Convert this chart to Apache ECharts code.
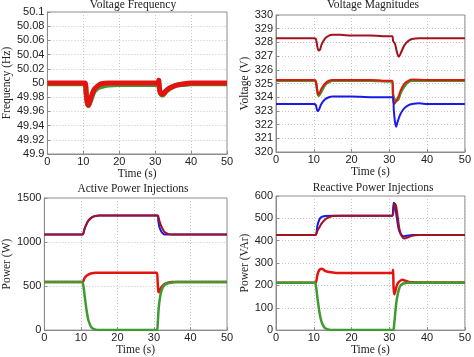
<!DOCTYPE html>
<html><head><meta charset="utf-8">
<script src="https://cdn.jsdelivr.net/npm/echarts@6/dist/echarts.min.js"></script>
<style>html,body{margin:0;padding:0;background:#fff}#c{width:474px;height:357px}</style>
</head><body><div id="c"></div>
<script>
// ---------- Data ----------
const timeTicks = [0, 10, 20, 30, 40, 50];
const titles = ['Voltage Frequency', 'Voltage Magnitudes', 'Active Power Injections', 'Reactive Power Injections'];
const yNames = ['Frequency (Hz)', 'Voltage (V)', 'Power (W)', 'Power (VAr)'];

// Panel 1: frequency
const fRedT = [0, 10, 10.5, 10.8, 11.1, 11.4, 11.8, 12.3, 13, 14, 15, 17, 20, 25, 30.8, 31, 31.2, 31.5, 32, 32.5, 33, 34, 35, 36, 38, 40, 45, 50];
const fRedV = [50.0, 50.0, 50.0, 49.985, 49.972, 49.969, 49.974, 49.982, 49.991, 49.996, 49.999, 50.0, 50.0, 50.0, 50.0, 50.004, 49.992, 49.986, 49.984, 49.986, 49.989, 49.993, 49.995, 49.997, 49.999, 50.0, 50.0, 50.0];
const fGreenT = [0, 10, 10.5, 10.8, 11.1, 11.4, 11.8, 12.3, 13, 14, 15, 17, 20, 25, 30.8, 31, 31.2, 31.5, 32, 32.5, 33, 34, 35, 36, 38, 40, 45, 50];
const fGreenV = [49.999, 49.999, 49.999, 49.985, 49.972, 49.968, 49.972, 49.979, 49.988, 49.993, 49.995, 49.997, 49.998, 49.998, 49.998, 49.999, 49.991, 49.985, 49.983, 49.985, 49.988, 49.992, 49.995, 49.997, 49.998, 49.999, 49.999, 49.999];

// Panel 2: voltage magnitudes
const vTopT = [0, 10, 10.5, 11, 11.3, 11.7, 12, 13, 14, 15, 17, 20, 25, 30, 30.8, 31, 31.5, 32, 32.5, 33, 34, 35, 36, 38, 40, 45, 50];
const vTopV = [328.3, 328.3, 328.28, 327.6, 327.4, 327.5, 327.8, 328.3, 328.5, 328.55, 328.55, 328.5, 328.5, 328.45, 328.45, 328.1, 327.9, 327.3, 326.95, 327.2, 327.8, 328.1, 328.25, 328.3, 328.3, 328.3, 328.3];
const vRedT = [0, 10, 10.5, 11, 11.3, 12, 13, 14, 15, 20, 25, 30, 30.8, 31, 31.3, 31.8, 32.5, 33, 34, 35, 36, 40, 45, 50];
const vRedV = [325.25, 325.25, 325.2, 324.4, 324.2, 324.6, 325.0, 325.2, 325.25, 325.25, 325.25, 325.2, 325.2, 323.9, 323.5, 323.7, 324.1, 324.5, 325.0, 325.2, 325.3, 325.25, 325.25, 325.25];
const vGreenT = [0, 10, 10.5, 11, 11.3, 12, 13, 14, 15, 20, 25, 30, 30.8, 31, 31.5, 32, 32.5, 33, 34, 35, 36, 40, 45, 50];
const vGreenV = [325.2, 325.2, 325.15, 324.3, 324.1, 324.4, 324.9, 325.1, 325.2, 325.2, 325.2, 325.15, 325.15, 324.2, 323.8, 323.75, 323.9, 324.3, 324.8, 325.1, 325.2, 325.2, 325.2, 325.2];
const vBlueT = [0, 10, 10.5, 11, 11.3, 12, 13, 14, 15, 20, 25, 30, 30.9, 31.2, 31.5, 31.8, 32.3, 33, 34, 35, 36, 38, 40, 45, 50];
const vBlueV = [323.5, 323.5, 323.45, 323.0, 323.05, 323.5, 323.85, 324.0, 324.05, 324.05, 324.0, 324.0, 324.0, 323.0, 322.2, 321.85, 322.3, 322.8, 323.2, 323.4, 323.5, 323.55, 323.5, 323.5, 323.5];

// Panel 3: active power
const pBlueT = [0, 10, 10.5, 11, 11.5, 12, 13, 14, 15, 20, 30, 31, 31.2, 31.5, 32, 32.5, 33, 35, 40, 50];
const pBlueV = [1085, 1085, 1085, 1150, 1200, 1240, 1280, 1295, 1300, 1300, 1300, 1300, 1240, 1170, 1120, 1095, 1085, 1085, 1085, 1085];
const pTopT = [0, 10, 10.5, 11, 11.5, 12, 13, 14, 15, 20, 30, 31, 31.5, 32, 32.5, 33, 34, 35, 40, 50];
const pTopV = [1085, 1085, 1085, 1150, 1200, 1240, 1280, 1295, 1300, 1300, 1300, 1300, 1240, 1180, 1140, 1110, 1090, 1085, 1085, 1085];
const pRedT = [0, 10, 10.5, 11, 11.5, 12, 13, 14, 15, 20, 30, 30.8, 31, 31.2, 31.4, 31.8, 32.3, 33, 34, 35, 40, 50];
const pRedV = [545, 545, 545, 590, 615, 630, 645, 650, 650, 650, 650, 650, 560, 440, 430, 470, 500, 525, 540, 545, 545, 545];
const pGreenT = [0, 10, 10.3, 10.6, 11, 11.5, 12, 12.5, 13, 14, 15, 20, 30, 30.8, 31, 31.3, 31.7, 32, 32.5, 33, 34, 35, 36, 40, 50];
const pGreenV = [545, 545, 545, 520, 400, 240, 120, 60, 25, 5, 0, 0, 0, 0, 50, 250, 380, 440, 490, 515, 535, 540, 545, 545, 545];

// Panel 4: reactive power
const qBlueT = [0, 10, 10.5, 11, 11.5, 12, 13, 15, 20, 30, 30.8, 31, 31.2, 31.5, 32, 32.5, 33, 33.5, 34, 35, 36, 40, 50];
const qBlueV = [425, 425, 425, 470, 495, 505, 510, 512, 512, 512, 512, 545, 570, 555, 500, 450, 430, 422, 420, 423, 425, 425, 425];
const qRedT = [0, 10, 10.5, 11, 11.5, 12, 13, 14, 15, 17, 20, 30, 30.8, 31.2, 31.5, 31.8, 32.2, 32.7, 33.3, 34, 35, 36, 38, 40, 50];
const qRedV = [425, 425, 425, 445, 460, 475, 495, 505, 510, 512, 512, 512, 512, 540, 565, 555, 510, 450, 420, 410, 415, 422, 425, 425, 425];
const qLowT = [0, 10, 10.5, 11, 11.5, 12, 12.5, 13, 14, 16, 20, 30, 30.8, 31, 31.1, 31.3, 31.6, 32, 32.5, 33, 33.5, 34, 35, 36, 40, 50];
const qLowV = [212, 212, 212, 250, 270, 275, 272, 265, 260, 256, 255, 255, 255, 270, 200, 160, 175, 200, 215, 222, 225, 222, 217, 214, 213, 213];
const qGreenT = [0, 10, 10.3, 10.6, 11, 11.5, 12, 12.5, 13, 14, 15, 20, 30, 31, 31.3, 31.7, 32, 32.5, 33, 33.5, 34, 35, 40, 50];
const qGreenV = [212, 212, 212, 195, 140, 80, 40, 20, 8, 2, 0, 0, 0, 0, 30, 100, 140, 180, 200, 207, 210, 212, 212, 212];

// ---------- Chart ----------
const zip = (t, v) => t.map((x, i) => [x, v[i]]);
const RED = '#e3140f', GREEN = '#3f9a32', BLUE = '#1a1ae6', DARK = '#a3121f';
const SERIF = 'Liberation Serif';
const SANS = 'Liberation Sans';

const grids = [
  { left: 40, top: 12, width: 187, height: 142 },
  { left: 276, top: 15, width: 193, height: 137 },
  { left: 37, top: 198, width: 190, height: 135 },
  { left: 276, top: 196, width: 193, height: 138 }
].map(g => Object.assign(g, { show: true, borderColor: '#8c8c8c', borderWidth: 1, backgroundColor: '#fff' }));

const yCfg = [
  { min: 49.9, max: 50.1, interval: 0.02, nameGap: 29 },
  { min: 320, max: 330, interval: 1, nameGap: 22 },
  { min: 0, max: 1500, interval: 500, nameGap: 29 },
  { min: 0, max: 600, interval: 100, nameGap: 21 }
];
const xGaps = [13, 13, 11, 10];
const titlePos = [[133, -1], [373, -1], [133, 183], [373, 182]];

const split = { show: true, lineStyle: { color: '#c4c4c4', type: [1, 2], width: 1 } };

const option = {
  animation: false,
  backgroundColor: '#fff',
  title: titles.map((t, i) => ({
    text: t, left: titlePos[i][0], top: titlePos[i][1], textAlign: 'center', padding: 0,
    textStyle: { fontFamily: SERIF, fontSize: 11.5, fontWeight: 'normal', color: '#222' }
  })),
  grid: grids,
  xAxis: grids.map((g, i) => ({
    type: 'value', gridIndex: i, min: 0, max: 50, interval: 10,
    name: 'Time (s)', nameLocation: 'middle', nameGap: xGaps[i],
    nameTextStyle: { fontFamily: SERIF, fontSize: 11.5, color: '#222' },
    axisLine: { show: true, lineStyle: { color: '#8c8c8c' } },
    axisTick: { show: true, inside: true, length: 3, lineStyle: { color: '#8c8c8c' } },
    axisLabel: { fontFamily: SANS, fontSize: 11, color: '#222', margin: 2 },
    splitLine: split
  })),
  yAxis: yCfg.map((c, i) => ({
    type: 'value', gridIndex: i, min: c.min, max: c.max, interval: c.interval,
    name: yNames[i], nameLocation: 'middle', nameGap: c.nameGap, nameRotate: 90,
    nameTextStyle: { fontFamily: SERIF, fontSize: 11.5, color: '#222' },
    axisLine: { show: true, lineStyle: { color: '#8c8c8c' } },
    axisTick: { show: true, inside: true, length: 3, lineStyle: { color: '#8c8c8c' } },
    axisLabel: { fontFamily: SANS, fontSize: 11, color: '#222', margin: 3,
      formatter: v => String(parseFloat(v.toFixed(2))) },
    splitLine: split
  })),
  series: [
    { idx: 0, d: zip(fGreenT, fGreenV), c: GREEN, w: 5 },
    { idx: 0, d: zip(fRedT, fRedV), c: RED, w: 5 },
    { idx: 1, d: zip(vGreenT, vGreenV), c: GREEN, w: 2.5 },
    { idx: 1, d: zip(vRedT, vRedV), c: RED, w: 2 },
    { idx: 1, d: zip(vBlueT, vBlueV), c: BLUE, w: 2 },
    { idx: 1, d: zip(vTopT, vTopV), c: DARK, w: 2 },
    { idx: 2, d: zip(pBlueT, pBlueV), c: BLUE, w: 2 },
    { idx: 2, d: zip(pTopT, pTopV), c: DARK, w: 2 },
    { idx: 2, d: zip(pRedT, pRedV), c: RED, w: 2.5 },
    { idx: 2, d: zip(pGreenT, pGreenV), c: GREEN, w: 2.5 },
    { idx: 3, d: zip(qBlueT, qBlueV), c: BLUE, w: 2 },
    { idx: 3, d: zip(qRedT, qRedV), c: DARK, w: 2 },
    { idx: 3, d: zip(qLowT, qLowV), c: RED, w: 2.5 },
    { idx: 3, d: zip(qGreenT, qGreenV), c: GREEN, w: 2.5 }
  ].map(s => ({
    type: 'line', xAxisIndex: s.idx, yAxisIndex: s.idx, data: s.d,
    showSymbol: false, smooth: 0.3, clip: true,
    lineStyle: { color: s.c, width: s.w }, itemStyle: { color: s.c }
  }))
};

const chart = echarts.init(document.getElementById('c'), null, { renderer: 'canvas' });
chart.setOption(option);
</script></body></html>
